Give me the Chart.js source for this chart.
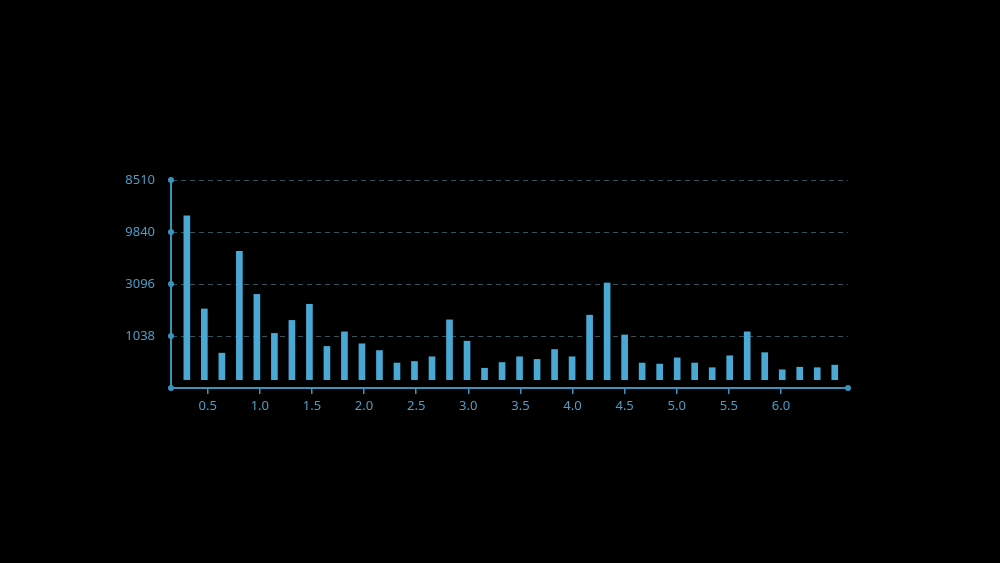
<!DOCTYPE html>
<html>
<head>
<meta charset="utf-8">
<script src="https://cdn.jsdelivr.net/npm/chart.js@4/dist/chart.umd.min.js"></script>
<style>
  html, body { margin: 0; padding: 0; background: #000; }
  #wrap { width: 1000px; height: 563px; }
</style>
</head>
<body>
<div id="wrap"><canvas id="chart" width="1000" height="563"></canvas></div>
<script>
// Bar heights, in grid steps above the x axis (one step = one dashed line)
const barValues = [
  3.31, 1.52, 0.67, 2.63, 1.80, 1.05, 1.30, 1.61, 0.80, 1.08,
  0.85, 0.72, 0.48, 0.51, 0.60, 1.31, 0.90, 0.38, 0.49, 0.60,
  0.55, 0.74, 0.60, 1.40, 2.02, 1.02, 0.48, 0.46, 0.58, 0.48,
  0.39, 0.62, 1.08, 0.68, 0.35, 0.40, 0.39, 0.44
];
const firstBarX = 0.30;   // x value of first bar
const barStep = 0.168;    // x distance between bars

const xTicks = [0.5, 1.0, 1.5, 2.0, 2.5, 3.0, 3.5, 4.0, 4.5, 5.0, 5.5, 6.0];
const yTickValues = [1, 2, 3, 4];
const yTickLabels = ['1038', '3096', '9840', '8510'];

const blue = '#4aa8d4';
const axisBlue = '#3b93bd';
const labelBlue = '#4f9cc2';

// little dots on the axes
const axisDots = {
  id: 'axisDots',
  afterDraw(chart) {
    const { ctx, chartArea, scales } = chart;
    const pts = [[chartArea.left, chartArea.bottom], [chartArea.right, chartArea.bottom]];
    yTickValues.forEach(v => pts.push([chartArea.left, scales.y.getPixelForValue(v)]));
    ctx.save();
    ctx.fillStyle = axisBlue;
    pts.forEach(p => {
      ctx.beginPath();
      ctx.arc(p[0], p[1], 3, 0, Math.PI * 2);
      ctx.fill();
    });
    ctx.restore();
  }
};

new Chart(document.getElementById('chart'), {
  type: 'bar',
  data: {
    datasets: [{
      data: barValues.map((v, i) => ({ x: firstBarX + i * barStep, y: v })),
      backgroundColor: blue,
      barThickness: 6,
      base: 0.16
    }]
  },
  options: {
    responsive: false,
    animation: false,
    layout: { padding: { top: 180, right: 152, left: 0, bottom: 0 } },
    plugins: { legend: { display: false }, tooltip: { enabled: false } },
    scales: {
      x: {
        type: 'linear',
        offset: false,
        min: 0.148,
        max: 6.643,
        afterFit: s => { s.height = 175; },
        afterBuildTicks: s => { s.ticks = xTicks.map(v => ({ value: v })); },
        border: { display: true, color: axisBlue, width: 2 },
        grid: {
          offset: false, drawOnChartArea: false, drawTicks: true, tickLength: 6,
          color: axisBlue, tickColor: axisBlue, tickWidth: 1.5, lineWidth: 1.5
        },
        ticks: {
          color: labelBlue,
          font: { family: 'Noto Sans', size: 13 },
          padding: 4,
          maxRotation: 0,
          callback: v => v.toFixed(1)
        }
      },
      y: {
        min: 0,
        max: 4,
        afterFit: s => { s.width = 171; },
        afterBuildTicks: s => { s.ticks = yTickValues.map(v => ({ value: v })); },
        border: { display: true, color: axisBlue, width: 2, dash: [5, 4] },
        grid: { color: '#34535e', lineWidth: 1, drawTicks: false },
        ticks: {
          color: labelBlue,
          font: { family: 'Noto Sans', size: 13 },
          padding: 16,
          callback: (v) => yTickLabels[yTickValues.indexOf(v)]
        }
      }
    }
  },
  plugins: [axisDots]
});
</script>
</body>
</html>
